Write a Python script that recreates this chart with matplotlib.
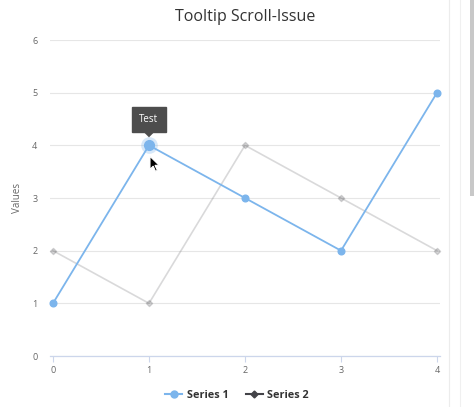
import matplotlib
matplotlib.use("Agg")
import matplotlib.pyplot as plt
from matplotlib.patches import Rectangle, Polygon
from matplotlib.lines import Line2D
import matplotlib.transforms as mtransforms

x_values = [0, 1, 2, 3, 4]
series1 = [1, 4, 3, 2, 5]
series2 = [2, 1, 4, 3, 2]
series_names = ["Series 1", "Series 2"]
y_ticks = [0, 1, 2, 3, 4, 5, 6]
title = "Tooltip Scroll-Issue"
y_label = "Values"
tooltip_text = "Test"
hover_index = 1

plt.rcParams['font.family'] = ['Open Sans', 'DejaVu Sans']

W, H = 474, 407
fig = plt.figure(figsize=(W / 100, H / 100), dpi=100)
fig.patch.set_facecolor("white")

ax = fig.add_axes([50 / W, (H - 356) / H, 390 / W, 316 / H])
ax.set_xlim(-0.031, 4.031)
ax.set_ylim(0, 6)

c1 = "#7cb5ec"
c2 = "#434348"

ax.set_yticks(y_ticks)
ax.set_xticks(x_values)
ax.grid(axis="y", color="#e6e6e6", linewidth=0.8)
ax.set_axisbelow(True)
for s in ["top", "right", "left"]:
    ax.spines[s].set_visible(False)
ax.spines["bottom"].set_color("#ccd6eb")
ax.spines["bottom"].set_linewidth(0.9)
ax.tick_params(axis="y", length=0, labelsize=6.5, labelcolor="#666666", pad=9)
ax.tick_params(axis="x", length=4, width=0.8, color="#ccd6eb", labelsize=6.5,
               labelcolor="#666666", pad=3)

ax.set_ylabel(y_label, fontsize=7, color="#666666", labelpad=7)

# series 2 (inactive, faded)
ax.plot(x_values, series2, color=c2, alpha=0.2, linewidth=1.2, marker="D",
        markersize=3.2, zorder=2, clip_on=False)
# series 1
ax.plot(x_values, series1, color=c1, linewidth=1.3, marker="o",
        markersize=4.8, zorder=3, clip_on=False)
# hover halo
hx, hy = x_values[hover_index], series1[hover_index]
ax.plot([hx], [hy], marker="o", markersize=12, color=c1, alpha=0.3, zorder=3,
        linestyle="none", markeredgewidth=0, clip_on=False)
ax.plot([hx], [hy], marker="o", markersize=7, color=c1, zorder=4,
        linestyle="none", clip_on=False)

# tooltip
trans = mtransforms.offset_copy(ax.transData, fig=fig, x=0, y=26, units="dots")
ax.text(hx, hy, tooltip_text, transform=trans, ha="center", va="center",
        fontsize=7, color="white", zorder=6,
        bbox=dict(boxstyle="square,pad=0.75", fc="#4d4d4d", ec="#4d4d4d"))
ptr = Polygon([[-5, 0], [5, 0], [0, -5]], closed=True, fc="#4d4d4d",
              ec="none", zorder=6)
ptr.set_transform(mtransforms.Affine2D().translate(0, 13) +
                  mtransforms.ScaledTranslation(hx, hy, ax.transData))
ptr.set_clip_on(False)
ax.add_patch(ptr)

# mouse cursor
cur = Polygon([[0, 0], [0, -13], [3.2, -9.8], [5.5, -15], [7.4, -14], [5, -9], [9.2, -9]],
              closed=True, fc="black", ec="white", lw=0.8, zorder=7)
cur.set_transform(mtransforms.Affine2D().translate(1, -11) +
                  mtransforms.ScaledTranslation(hx, hy, ax.transData))
cur.set_clip_on(False)
ax.add_patch(cur)

ax.set_title(title, fontsize=11.5, color="#333333", pad=14)

# legend
handles = [Line2D([], [], color=c1, marker="o", markersize=5, linewidth=1.5),
           Line2D([], [], color=c2, marker="D", markersize=3.5, linewidth=1.5)]
leg = fig.legend(handles, series_names, loc="center", bbox_to_anchor=(0.5, 12 / H),
                 ncol=2, frameon=False, fontsize=7.8, handlelength=1.6,
                 handletextpad=0.4, columnspacing=1.6)
for t in leg.get_texts():
    t.set_fontweight("bold")
    t.set_color("#333333")

# scrollbar decoration
fig.add_artist(Line2D([449 / W, 449 / W], [0, 1], color="#ececec", lw=0.8))
fig.add_artist(Line2D([460 / W, 460 / W], [0, 1], color="#f0f0f0", lw=0.8))
fig.add_artist(Rectangle((470 / W, (H - 196) / H), 4 / W, 196 / H, fc="#c8c8c8", ec="none"))

fig.savefig("out.png", dpi=100)
